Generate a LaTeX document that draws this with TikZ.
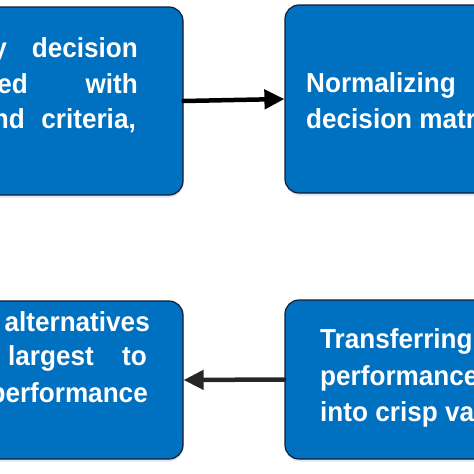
\documentclass[tikz,border=0pt]{standalone}
\usepackage{fontspec}
\newfontfamily\boxfont{Liberation Sans}[FakeStretch=0.95]
\usetikzlibrary{arrows.meta,shadows}
\definecolor{boxblue}{RGB}{0,112,192}
\definecolor{boxline}{RGB}{20,30,50}
\definecolor{shadowc}{RGB}{200,215,235}
\definecolor{arrowdark}{RGB}{38,38,38}
\begin{document}
\begin{tikzpicture}[x=1pt,y=-1pt,
  box/.style={draw=boxline, line width=1.2pt, fill=boxblue, rounded corners=14pt, inner sep=0pt,
    drop shadow={shadow xshift=0.5pt, shadow yshift=-2.5pt, opacity=0.6, fill=shadowc}},
  txt/.style={text=white, font=\boxfont\bfseries\fontsize{27.5}{32}\selectfont, inner sep=0pt},
  flow/.style={line width=4.5pt, line cap=round, -{Triangle[length=20pt,width=19pt]}}]
\useasboundingbox (0,0) rectangle (474,474);
\clip (0,0) rectangle (474,474);
% boxes
\node[box, minimum width=203pt, minimum height=188pt] (tl) at (81.5,101) {};
\node[box, minimum width=205pt, minimum height=188pt] (tr) at (387.5,99) {};
\node[box, minimum width=203pt, minimum height=158pt] (bl) at (81.5,380) {};
\node[box, minimum width=205pt, minimum height=159pt] (br) at (387.5,379.5) {};
% connectors
\draw[flow, draw=black, fill=black] (tl.east) -- (tr.west);
\draw[flow, draw=arrowdark, fill=arrowdark] (br.west) -- (bl.east);
% top-left text
\node[txt, anchor=base east] (t1a) at (7,57) {y};
\node[txt, anchor=base east] (t1b) at (138,57) {decision};
\node[txt, anchor=base east] (t2a) at (28,93) {ed};
\node[txt, anchor=base east] (t2b) at (138,93) {with};
\node[txt, anchor=base east] (t3a) at (25,128) {nd};
\node[txt, anchor=base east] (t3b) at (136,128) {criteria,};
% top-right text
\node[txt, anchor=base west] (r1) at (306,92) {Normalizing};
\node[txt, anchor=base west] (r2) at (306,128) {decision matrix};
% bottom-left text
\node[txt, anchor=base east] (b1) at (150,331) {alternatives};
\node[txt, anchor=base west] (b2a) at (8,365) {largest};
\node[txt, anchor=base east] (b2b) at (147,365) {to};
\node[txt, anchor=base east] (b3) at (148,402) {performance};
% bottom-right text
\node[txt, anchor=base west] (s1) at (320,348) {Transferring};
\node[txt, anchor=base west] (s2) at (320,385) {performance};
\node[txt, anchor=base west] (s3) at (320,421) {into crisp values};
\end{tikzpicture}
\end{document}
